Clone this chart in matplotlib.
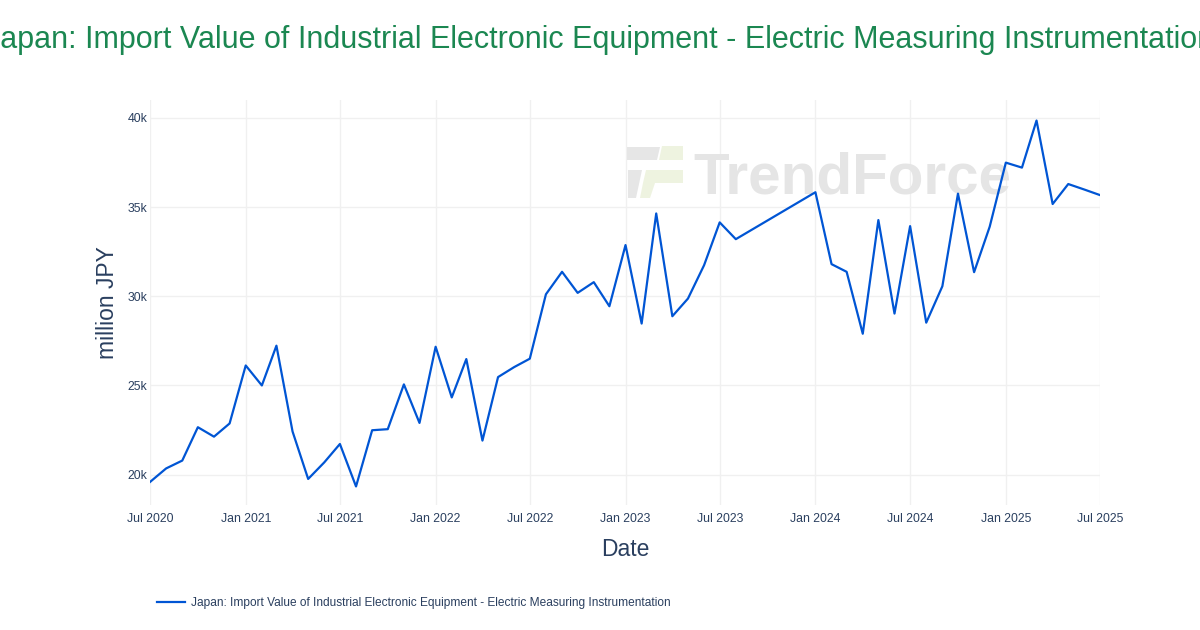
import pandas as pd
import matplotlib.pyplot as plt
import matplotlib.dates as mdates
from matplotlib.ticker import FuncFormatter
from matplotlib.patches import Polygon

plt.rcParams['font.family'] = ['Liberation Sans', 'DejaVu Sans']

months = ["2020-07", "2020-08", "2020-09", "2020-10", "2020-11", "2020-12",
          "2021-01", "2021-02", "2021-03", "2021-04", "2021-05", "2021-06",
          "2021-07", "2021-08", "2021-09", "2021-10", "2021-11", "2021-12",
          "2022-01", "2022-02", "2022-03", "2022-04", "2022-05", "2022-06",
          "2022-07", "2022-08", "2022-09", "2022-10", "2022-11", "2022-12",
          "2023-01", "2023-02", "2023-03", "2023-04", "2023-05", "2023-06",
          "2023-07", "2023-08",
          "2024-01", "2024-02", "2024-03", "2024-04", "2024-05", "2024-06",
          "2024-07", "2024-08", "2024-09", "2024-10", "2024-11", "2024-12",
          "2025-01", "2025-02", "2025-03", "2025-04", "2025-05", "2025-06",
          "2025-07"]
values = [19.59, 20.35, 20.79, 22.66, 22.13, 22.87,
          26.12, 25.00, 27.23, 22.42, 19.76, 20.69,
          21.72, 19.34, 22.49, 22.55, 25.06, 22.90,
          27.17, 24.33, 26.48, 21.91, 25.47, 26.03,
          26.50, 30.11, 31.37, 30.19, 30.79, 29.44,
          32.87, 28.47, 34.64, 28.88, 29.87, 31.74,
          34.14, 33.20,
          35.83, 31.80, 31.37, 27.90, 34.27, 29.03,
          33.93, 28.52, 30.56, 35.75, 31.35, 33.90,
          37.49, 37.21, 39.85, 35.17, 36.29, 35.98,
          35.67]
values = [v * 1000 for v in values]

series_name = "Japan: Import Value of Industrial Electronic Equipment - Electric Measuring Instrumentation"
tick_dates = ["2020-07", "2021-01", "2021-07", "2022-01", "2022-07", "2023-01",
              "2023-07", "2024-01", "2024-07", "2025-01", "2025-07"]

df = pd.DataFrame({"date": pd.to_datetime(months), "value": values})

W, H = 1200, 630
fig = plt.figure(figsize=(12, 6.3), dpi=100)
ax = fig.add_axes([150 / W, 1 - 505 / H, 950 / W, 405 / H])

text_col = '#2a3f5f'
line, = ax.plot(df["date"], df["value"], color='#0055d4', linewidth=1.6, label=series_name, zorder=3)

ax.set_xlim(pd.Timestamp("2020-07-01"), pd.Timestamp("2025-07-01"))
ax.set_ylim(18300, 41000)
ax.set_yticks([20000, 25000, 30000, 35000, 40000])
ax.yaxis.set_major_formatter(FuncFormatter(lambda v, p: f"{int(v/1000)}k"))
ax.set_xticks(pd.to_datetime(tick_dates))
ax.xaxis.set_major_formatter(mdates.DateFormatter("%b %Y"))

ax.grid(True, color='#f0f0f0', linewidth=1)
ax.set_axisbelow(True)
for s in ax.spines.values():
    s.set_visible(False)
ax.tick_params(length=0, labelsize=8.8, colors=text_col)
ax.tick_params(axis='y', pad=2)
ax.tick_params(axis='x', pad=6)
ax.set_xlabel("Date", fontsize=16.5, color=text_col, labelpad=9)
ax.set_ylabel("million JPY", fontsize=16.5, color=text_col, labelpad=6)

# watermark logo
def px(pts):
    return [(x / W, 1 - y / H) for x, y in pts]

for pts, col in [
    ([(627, 147), (660, 147), (657, 160), (627, 160)], '#e6e6e6'),
    ([(628, 170), (642, 170), (636, 198), (628, 198)], '#e6e6e6'),
    ([(662, 146), (683, 146), (683, 160), (659, 160)], '#eef3e0'),
    ([(646, 170), (683, 170), (683, 183), (643, 183)], '#eef3e0'),
    ([(643, 183), (655, 183), (650, 198), (640, 198)], '#eef3e0'),
]:
    ax.add_patch(Polygon(px(pts), closed=True, transform=fig.transFigure,
                         facecolor=col, edgecolor='none', zorder=1))
ax.text(693 / W, 1 - 193 / H, "TrendForce", transform=fig.transFigure, ha='left', va='baseline',
        fontsize=42, fontweight='bold', color='#e5e5e5', zorder=1)

fig.text(0.5, 1 - 40 / H, series_name, ha='center', va='center', fontsize=22, color='#1b8751')

fig.legend(handles=[line], loc='center left', bbox_to_anchor=(0.122, 1 - 603 / H), frameon=False,
           fontsize=8.6, labelcolor=text_col, handlelength=2.3, handletextpad=0.5)

fig.savefig("out.png", dpi=100)
